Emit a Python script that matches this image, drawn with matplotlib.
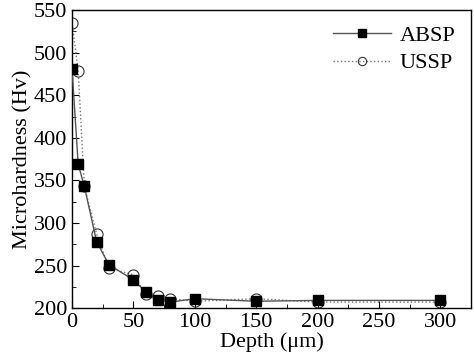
import matplotlib
matplotlib.use("Agg")
import matplotlib.pyplot as plt
from matplotlib.ticker import MultipleLocator

plt.rcParams['font.family'] = ['Liberation Serif', 'DejaVu Serif']
plt.rcParams['mathtext.fontset'] = 'stix'

depth = [0, 5, 10, 20, 30, 50, 60, 70, 80, 100, 150, 200, 300]
absp = [481, 369, 343, 278, 251, 233, 219, 210, 207, 211, 208, 209, 209]
ussp = [535, 479, 343, 287, 247, 239, 217, 214, 211, 208, 211, 207, 207]

fig = plt.figure(figsize=(4.74, 3.62), dpi=100)
ax = fig.add_axes([0.152, 0.149, 0.842, 0.823])

ax.plot(depth, absp, '-', color='#555555', lw=1.0, marker='s', ms=7,
        mfc='black', mec='black', label='ABSP', zorder=3)
ax.plot(depth, ussp, ':', color='#777777', lw=1.0, marker='o', ms=8,
        mfc='none', mec='#333333', mew=0.8, label='USSP', zorder=2)

ax.set_xlim(0, 325)
ax.set_ylim(200, 550)
ax.xaxis.set_major_locator(MultipleLocator(50))
ax.xaxis.set_minor_locator(MultipleLocator(25))
ax.yaxis.set_major_locator(MultipleLocator(50))
ax.yaxis.set_minor_locator(MultipleLocator(25))
ax.tick_params(which='both', direction='in', top=False, right=False, labelsize=16)
ax.tick_params(which='major', length=5)
ax.tick_params(which='minor', length=3)
ax.set_xlabel('Depth (μm)', fontsize=16, labelpad=0)
ax.set_ylabel('Microhardness (Hv)', fontsize=16, labelpad=1)
for s in ax.spines.values():
    s.set_linewidth(1.0)

ax.legend(loc='upper right', frameon=False, fontsize=16, handlelength=2.6,
          handletextpad=0.4, borderaxespad=0.3, labelspacing=0.3,
          markerscale=0.75)

fig.savefig('out.png', dpi=100)
